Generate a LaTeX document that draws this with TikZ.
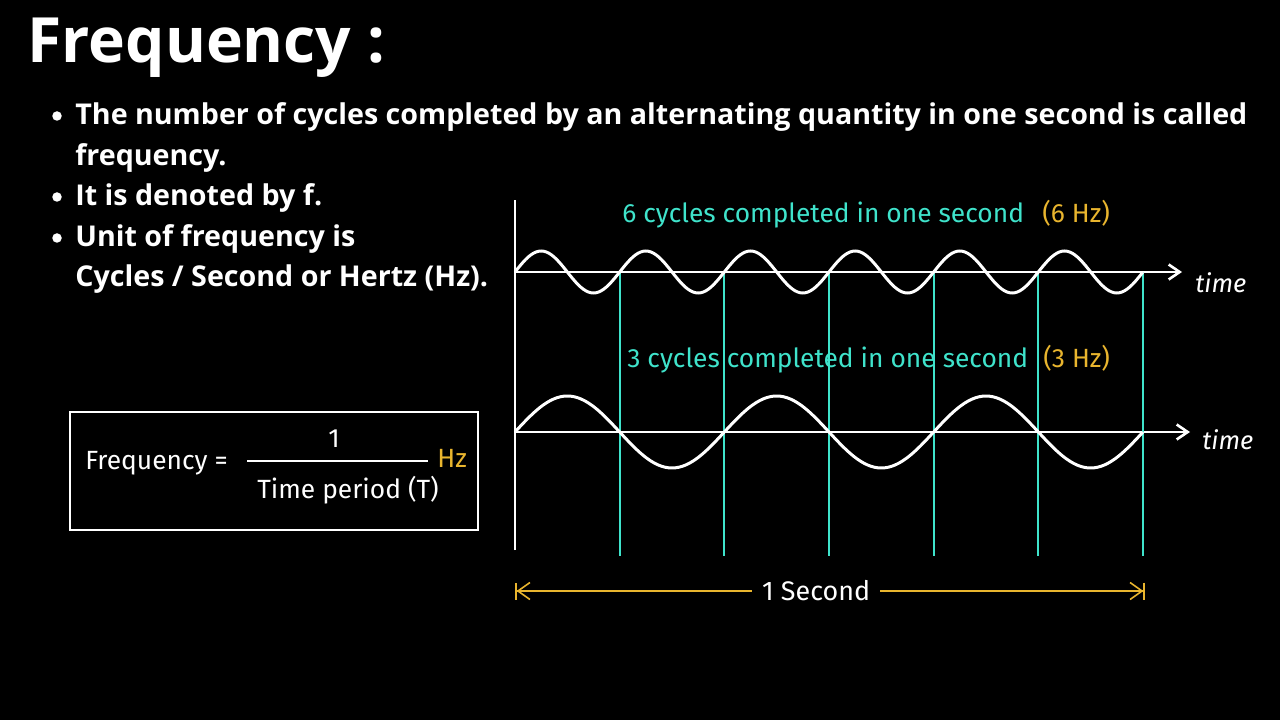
\documentclass[tikz,border=0pt]{standalone}
\usepackage{fontspec}
\setmainfont{Open Sans}
\newfontfamily\handfont{Fira Sans}
\usetikzlibrary{arrows.meta,positioning}
\definecolor{tealc}{HTML}{3FE3CB}
\definecolor{goldc}{HTML}{E9B52E}

\begin{document}
\begin{tikzpicture}[x=0.2mm,y=-0.2mm,
			every node/.style={inner sep=0pt,text=white},
			bulletline/.style={anchor=base west,font=\fontsize{16.3}{20}\selectfont\bfseries},
			dot/.style={circle,fill=white,minimum size=1.9mm},
			axis/.style={white,line width=1.5pt},
			wave/.style={white,line width=1.7pt},
			tick/.style={tealc,line width=1.1pt},
			cyclelabel/.style={anchor=base west,text=tealc,font=\handfont\fontsize{15}{18}\selectfont},
			hzlabel/.style={anchor=base west,text=goldc,font=\handfont\fontsize{15}{18}\selectfont},
			timelabel/.style={anchor=west,font=\handfont\itshape\fontsize{14.5}{17}\selectfont},
			boxtext/.style={font=\handfont\fontsize{15}{18}\selectfont},
			>={Straight Barb[length=2.2mm,width=3mm]}]
			
			% background and page size
			\fill[black] (0,0) rectangle (1280,720);
			\useasboundingbox (0,0) rectangle (1280,720);
			
			% Title
			\node[anchor=base west,font=\fontsize{35.5}{42}\selectfont\bfseries] (title) at (27,63) {Frequency :};
			
			% Bullet text, one node per printed line
			\foreach \n/\y/\txt in {1/125/{The number of cycles completed by an alternating quantity in one second is called},
				2/166/{frequency.},3/206/{It is denoted by f.},4/247/{Unit of frequency is},5/287/{Cycles / Second or Hertz (Hz).}}{
				\node[bulletline] (l\n) at (75,\y) {\txt};
			}
			\foreach \n/\y in {1/116,3/197,4/238}{
				\node[dot] (d\n) at (57,\y) {};
			}
			
			% Formula box
			\node[draw=white,line width=1.3pt,minimum width=81.6mm,minimum height=23.6mm] (fbox) at (274,471) {};
			\node[boxtext,anchor=base west] (freq) at (85,469) {Frequency =};
			\coordinate (fl) at (247,461);
			\coordinate (fr) at (428,461);
			\draw[white,line width=1pt] (fl) -- (fr);
			\node[boxtext] (num) at (334,439) {1};
			\node[boxtext] (den) at (348,490) {Time period (T)};
			\node[boxtext,anchor=base west,text=goldc] (hz) at (437,467) {Hz};
			
			% Vertical axis
			\coordinate (vtop) at (515,200);
			\coordinate (vbot) at (515,550);
			\draw[axis] (vbot) -- (vtop);
			
			% Time axes for the 6 Hz and 3 Hz waves
			\coordinate (a1) at (515,272);
			\coordinate (a1e) at (1182,272);
			\coordinate (a2) at (515,432);
			\coordinate (a2e) at (1190,432);
			\draw[axis,->] (a1) -- (a1e);
			\draw[axis,->] (a2) -- (a2e);
			\node[timelabel] (t1) at (1195,283) {time};
			\node[timelabel] (t2) at (1202,440) {time};
			
			% Marks at the end of every cycle of the 6 Hz wave
			\foreach \i in {1,...,6}{
				\pgfmathsetmacro{\xx}{515+628/6*\i}
				\coordinate (p\i) at (\xx,272);
				\coordinate (q\i) at (\xx,556);
				\draw[tick] (p\i) -- (q\i);
			}
			
			% The two waves (domain in degrees of phase)
			\draw[wave] plot[domain=0:2160,samples=241,smooth] ({515+\x*0.290741},{272-21*sin(\x)});
			\draw[wave] plot[domain=0:1080,samples=181,smooth] ({515+\x*0.581481},{432-36*sin(\x)});
			
			% Wave labels
			\node[cyclelabel] (c6) at (622,223) {6 cycles completed in one second};
			\node[hzlabel] (h6) at (1042,223) {(6 Hz)};
			\node[cyclelabel] (c3) at (627,368) {3 cycles completed in one second};
			\node[hzlabel] (h3) at (1043,368) {(3 Hz)};
			
			% One second span
			\coordinate (s1) at (515,591);
			\coordinate (s2) at (1145,591);
			\draw[goldc,line width=0.9pt,{Bar[width=3.4mm]Straight Barb[length=2.4mm,width=3.4mm]}-{Straight Barb[length=2.4mm,width=3.4mm]Bar[width=3.4mm]}]
				(s1) -- node[pos=0.478,fill=black,inner xsep=2mm,inner ysep=1mm,font=\handfont\fontsize{15.3}{18}\selectfont] (sec) {1 Second} (s2);
			
		\end{tikzpicture}
\end{document}
